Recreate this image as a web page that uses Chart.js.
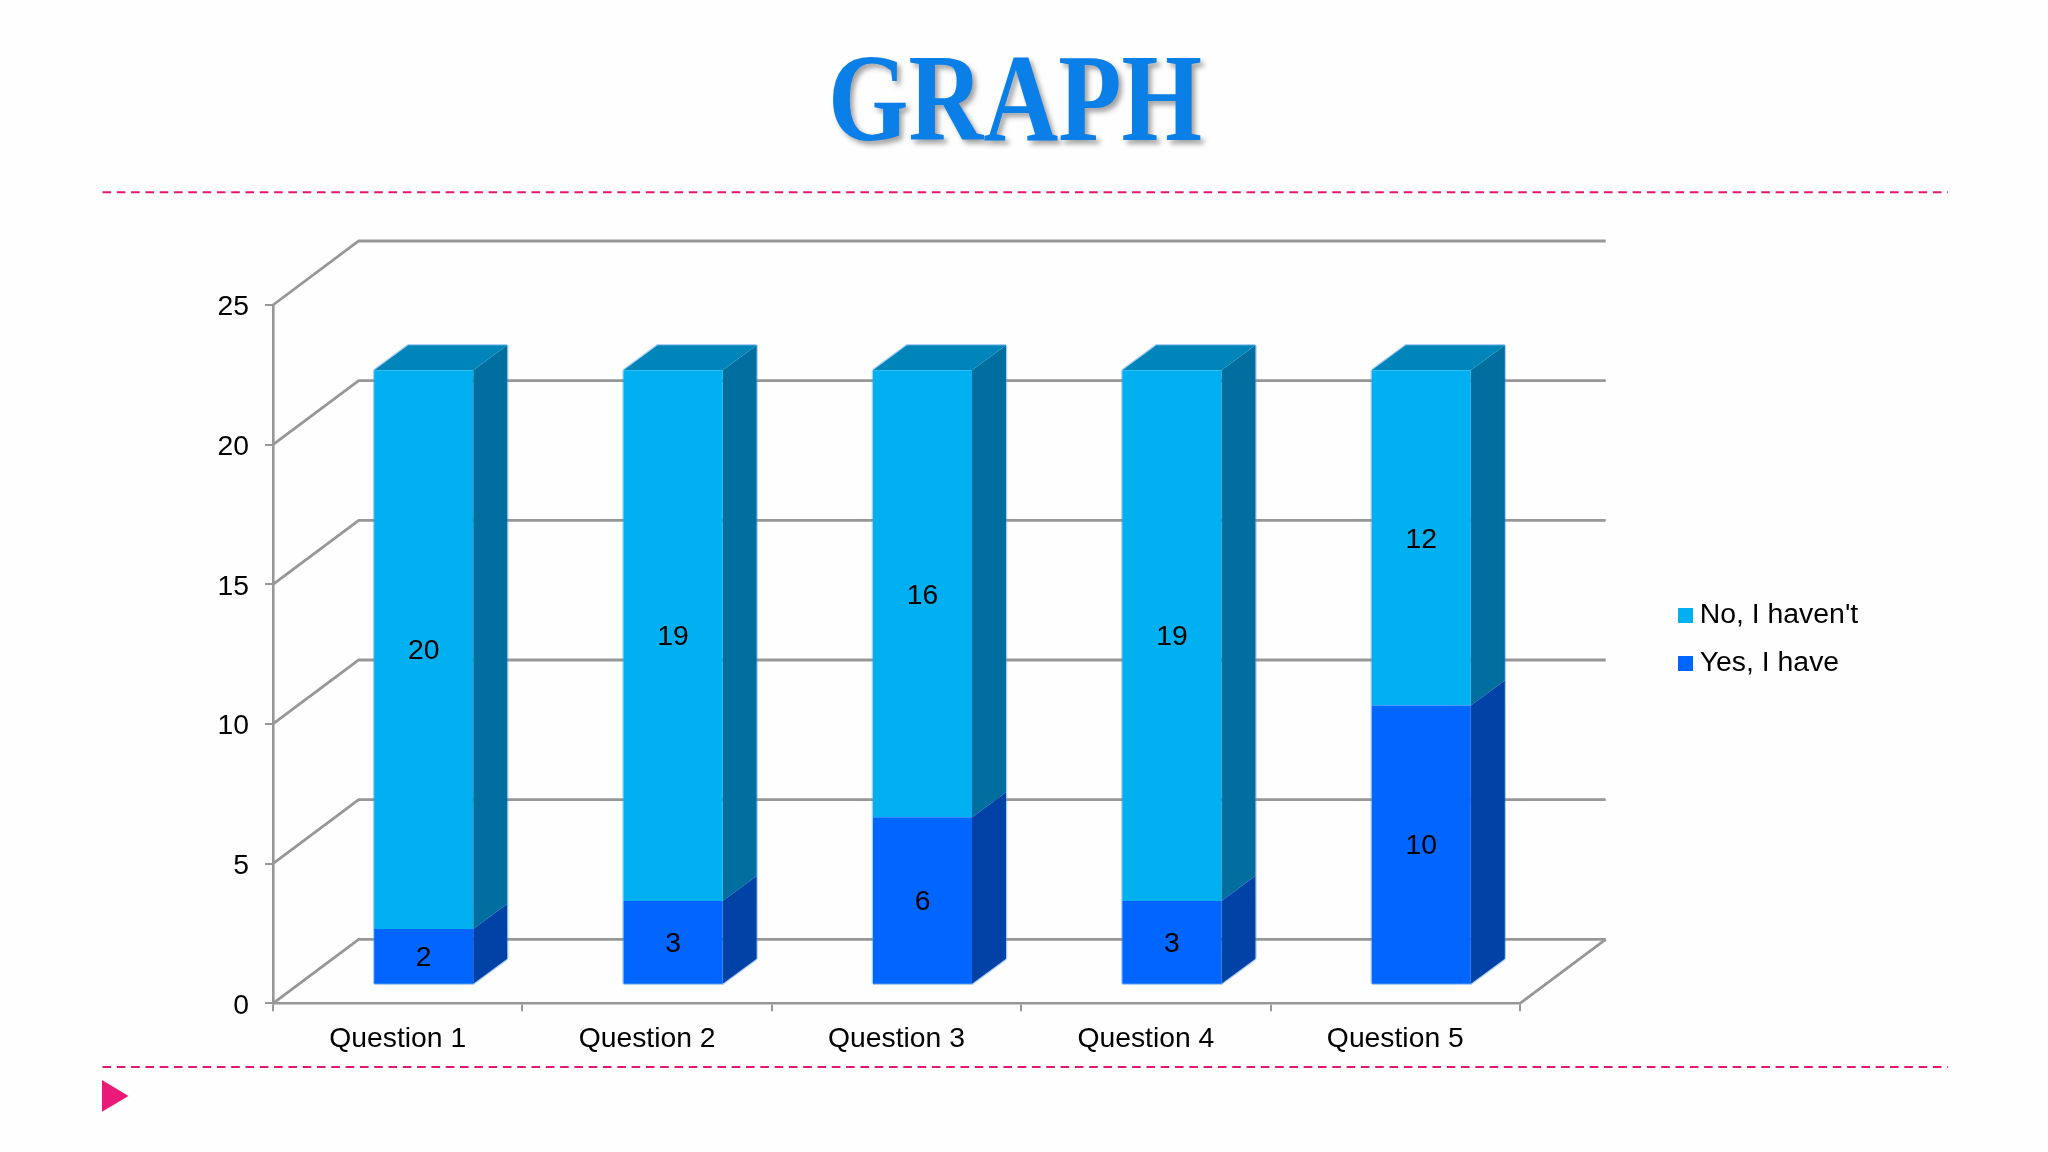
<!DOCTYPE html>
<html>
<head>
<meta charset="utf-8">
<title>GRAPH</title>
<script src="https://cdn.jsdelivr.net/npm/chart.js@4/dist/chart.umd.js"></script>
<style>
html,body{margin:0;padding:0;background:#fefeff;}
canvas{display:block;}
</style>
</head>
<body>
<canvas id="c" width="2048" height="1152" style="width:2048px;height:1152px"></canvas>
<script>
const categories = ['Question 1','Question 2','Question 3','Question 4','Question 5'];
const yesValues = [2,3,6,3,10];
const noValues = [20,19,16,19,12];
const seriesNames = ['Yes, I have', "No, I haven't"];

const FONT = '"Liberation Sans", Arial, sans-serif';
const GRID = '#979797';
const wall = {dx: 85.7, dy: 64};       // depth of the floor
const front = {dx: 26, dy: 18.5};      // how far bars stand back from the axis
const barDepth = {dx: 34, dy: 25};     // depth of a bar
const faces = [
  {front:'#0066FF', side:'#0042A6', top:'#0050C8'},
  {front:'#00B0F0', side:'#006F9F', top:'#0085BB'}
];

function swatch(color){
  const s = document.createElement('canvas');
  s.width = 15; s.height = 15;
  const x = s.getContext('2d');
  x.fillStyle = color; x.fillRect(0,0,15,15);
  return s;
}

const pageDecor = {
  id:'pageDecor',
  beforeDraw(chart){
    const c = chart.ctx;
    c.save();
    c.fillStyle = '#fefeff';
    c.fillRect(0,0,chart.width,chart.height);
    c.strokeStyle = '#E2186F';
    c.lineWidth = 2;
    c.setLineDash([8.6,5.7]);
    [192.3,1067].forEach(y=>{
      c.beginPath(); c.moveTo(102.5,y); c.lineTo(1948,y); c.stroke();
    });
    c.setLineDash([]);
    c.fillStyle = '#E91A78';
    c.beginPath(); c.moveTo(102,1080); c.lineTo(128.5,1096); c.lineTo(102,1111.7); c.closePath(); c.fill();
    c.restore();
  }
};

const walls = {
  id:'walls',
  afterLayout(chart){
    const t = chart.titleBlock;
    if(t && !t._wrapped){
      const draw = t.draw.bind(t);
      const mid = (t.left + t.right)/2;
      t.draw = function(){
        const c = chart.ctx;
        c.save();
        c.shadowColor = 'rgba(90,90,90,0.55)';
        c.shadowBlur = 5; c.shadowOffsetX = 3.5; c.shadowOffsetY = 3.5;
        c.translate(1015,12); c.scale(0.835,1); c.translate(-mid,0);
        draw();
        c.restore();
      };
      t._wrapped = true;
    }
    const ys = chart.scales.y;
    if(!ys._wrapped){
      const labels = ys.drawLabels.bind(ys);
      ys.drawLabels = function(area){
        chart.ctx.save();
        chart.ctx.translate(0,2.5);
        labels(area);
        chart.ctx.restore();
      };
      ys._wrapped = true;
    }
    const l = chart.legend;
    if(l){
      const w = l.right - l.left, h = l.bottom - l.top;
      l.left = 1664.5; l.right = 1664.5 + w;
      l.top = 581; l.bottom = 581 + h;
    }
  },
  beforeDatasetsDraw(chart){
    const c = chart.ctx, y = chart.scales.y, a = chart.chartArea;
    c.save();
    c.strokeStyle = GRID;
    c.lineWidth = 2.8;
    y.ticks.forEach(t=>{
      const p = y.getPixelForValue(t.value);
      c.beginPath();
      c.moveTo(a.left,p);
      c.lineTo(a.left+wall.dx,p-wall.dy);
      c.lineTo(a.right+wall.dx,p-wall.dy);
      c.stroke();
    });
    const p0 = y.getPixelForValue(0);
    c.beginPath();
    c.moveTo(a.right+wall.dx,p0-wall.dy);
    c.lineTo(a.right,p0);
    c.stroke();
    c.restore();
  },
  beforeDatasetDraw(chart,args){
    const c = chart.ctx, i = args.index, meta = args.meta;
    const last = chart.data.datasets.length-1;
    c.save();
    c.translate(front.dx,-front.dy);
    meta.data.forEach(el=>{
      const {x,y,base,width} = el.getProps(['x','y','base','width'],true);
      const r = x+width/2, l = x-width/2;
      // soft fringe along the outer edges of the bar
      c.strokeStyle = 'rgba(70,150,230,0.45)';
      c.lineWidth = 2.5;
      c.beginPath();
      c.moveTo(l,base); c.lineTo(l,y);
      c.moveTo(r+barDepth.dx,y-barDepth.dy); c.lineTo(r+barDepth.dx,base-barDepth.dy);
      if(i===last){
        c.moveTo(l,y); c.lineTo(l+barDepth.dx,y-barDepth.dy);
        c.lineTo(r+barDepth.dx,y-barDepth.dy);
      }
      if(i===0){
        c.moveTo(l,base); c.lineTo(r,base); c.lineTo(r+barDepth.dx,base-barDepth.dy);
      }
      c.stroke();
      c.fillStyle = faces[i].side;
      c.beginPath();
      c.moveTo(r,y); c.lineTo(r+barDepth.dx,y-barDepth.dy);
      c.lineTo(r+barDepth.dx,base-barDepth.dy); c.lineTo(r,base);
      c.closePath(); c.fill();
      if(i===last){
        c.fillStyle = faces[i].top;
        c.beginPath();
        c.moveTo(l,y); c.lineTo(l+barDepth.dx,y-barDepth.dy);
        c.lineTo(r+barDepth.dx,y-barDepth.dy); c.lineTo(r,y);
        c.closePath(); c.fill();
      }
    });
  },
  afterDatasetDraw(chart){
    chart.ctx.restore();
  },
  afterDatasetsDraw(chart){
    const c = chart.ctx;
    c.save();
    c.fillStyle = '#000';
    c.font = '28.3px '+FONT;
    c.textAlign = 'center';
    c.textBaseline = 'middle';
    chart.data.datasets.forEach((ds,i)=>{
      chart.getDatasetMeta(i).data.forEach((el,j)=>{
        const {x,y,base} = el.getProps(['x','y','base'],true);
        c.fillText(String(ds.data[j]), x+front.dx, (y+base)/2-front.dy+2);
      });
    });
    c.restore();
  }
};

new Chart(document.getElementById('c'),{
  type:'bar',
  data:{
    labels:categories,
    datasets:[
      {label:seriesNames[0],data:yesValues,backgroundColor:faces[0].front,stack:'a',clip:false},
      {label:seriesNames[1],data:noValues,backgroundColor:faces[1].front,stack:'a',clip:false}
    ]
  },
  options:{
    responsive:false,
    devicePixelRatio:1,
    animation:false,
    layout:{padding:{left:0,right:528,top:0,bottom:0}},
    datasets:{bar:{barPercentage:0.397,categoryPercentage:1}},
    plugins:{
      tooltip:{enabled:false},
      title:{
        display:true,
        text:'GRAPH',
        color:'#0A7FE8',
        font:{family:'"Liberation Serif", serif',size:124,weight:'bold',lineHeight:1.2},
        padding:{top:21.6,bottom:134.6}
      },
      legend:{
        position:'chartArea',
        align:'start',
        reverse:true,
        labels:{
          color:'#000',
          font:{family:FONT,size:28.4},
          usePointStyle:true,
          pointStyleWidth:1,
          padding:20,
          generateLabels(chart){
            const items = Chart.defaults.plugins.legend.labels.generateLabels(chart);
            items.forEach(it=>{it.pointStyle = swatch(it.fillStyle);});
            return items;
          }
        }
      }
    },
    scales:{
      x:{
        stacked:true,
        afterFit(s){s.height = 148.7;},
        grid:{drawOnChartArea:false,drawTicks:true,tickLength:8,color:GRID,lineWidth:2},
        border:{color:GRID,width:2.6},
        ticks:{color:'#000',font:{family:FONT,size:28.3},padding:11,maxRotation:0}
      },
      y:{
        stacked:true,
        min:0,max:25,
        afterFit(s){s.width = 273;},
        grid:{drawOnChartArea:false,drawTicks:true,tickLength:8,color:GRID,lineWidth:2},
        border:{color:GRID,width:2.6},
        ticks:{stepSize:5,color:'#000',font:{family:FONT,size:28.3},padding:16}
      }
    }
  },
  plugins:[pageDecor,walls]
});
</script>
</body>
</html>
